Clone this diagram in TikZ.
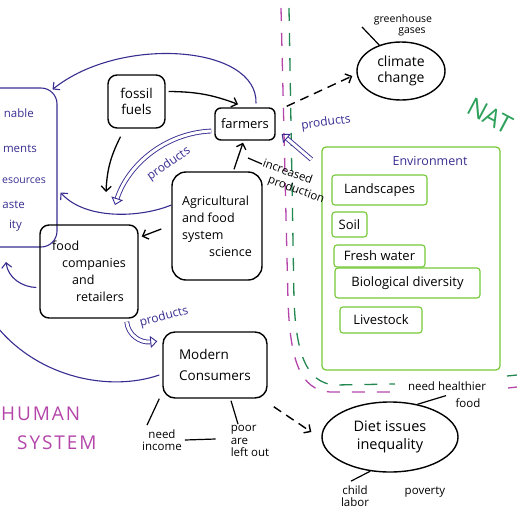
\documentclass[tikz,border=0pt]{standalone}
\usepackage{fontspec}
\setmainfont{Open Sans}
\usetikzlibrary{arrows.meta,shapes.geometric,calc}
\definecolor{inkblue}{RGB}{55,45,145}
\definecolor{magent}{RGB}{180,70,170}
\definecolor{leaf}{RGB}{115,200,55}
\definecolor{pine}{RGB}{35,135,80}
\definecolor{natgreen}{RGB}{45,160,90}
\begin{document}
\begin{tikzpicture}[x=1pt,y=-1pt,
  box/.style={draw=black,line width=1.4pt,rounded corners=9pt,align=center,inner sep=2pt,font=\fontsize{12.5}{15}\selectfont},
  gbox/.style={draw=leaf,line width=1.1pt,rounded corners=3pt,inner sep=1pt,font=\fontsize{13}{15}\selectfont},
  oval/.style={ellipse,draw=black,line width=1.4pt,align=center,inner sep=0pt,font=\fontsize{14.5}{18}\selectfont},
  arr/.style={black,line width=1.3pt,-{Straight Barb[length=5pt,width=10pt]}},
  dasharr/.style={black,line width=1.4pt,dash pattern=on 9pt off 6pt,-{Straight Barb[length=5pt,width=10pt]}},
  bluearr/.style={inkblue,line width=1.1pt,-{Straight Barb[length=5pt,width=10pt]}},
  blueline/.style={inkblue,line width=1.1pt},
  hollow/.style={inkblue,line width=0.9pt,double=white,double distance=3pt,-{Triangle[open,length=7pt,width=12pt]}},
  lbl/.style={font=\fontsize{11.5}{12.5}\selectfont,align=center,inner sep=1pt},
  bluelbl/.style={lbl,text=inkblue},
  tie/.style={black,line width=1.2pt},
  bound/.style={line width=1.3pt,dash pattern=on 13pt off 12pt}
]
\useasboundingbox (0,0) rectangle (517,517);
\clip (0,0) rectangle (517,517);

% boundary between human system and nature
\draw[bound,magent] (281,8) -- (288,300) .. controls (290,360) and (300,390) .. (330,392) -- (395,392);
\draw[bound,pine] (289,8) -- (294,300) .. controls (296,350) and (305,383) .. (335,385) -- (395,384);
\draw[bound,pine] (507,376) -- (517,375);
\draw[bound,magent] (508,388) -- (517,387);

% region labels
\node[text=magent,font=\fontsize{19}{22}\selectfont\addfontfeature{LetterSpace=10},anchor=west,inner sep=0pt] (human) at (1,414) {HUMAN};
\node[text=magent,font=\fontsize{19}{22}\selectfont\addfontfeature{LetterSpace=10},anchor=west,inner sep=0pt] (system) at (17,443) {SYSTEM};
\node[text=natgreen,font=\fontsize{25}{27}\selectfont,rotate=-28,inner sep=0pt] (nat) at (490,116) {NAT};

% left (cut) box
\node[draw=inkblue,line width=1.1pt,rounded corners=16pt,minimum width=80pt,minimum height=159pt] (left) at (17,167.5) {};
\node[bluelbl,anchor=east] (l1) at (35,113) {nable};
\node[bluelbl,anchor=east] (l2) at (38,149) {ments};
\node[bluelbl,anchor=east,font=\fontsize{10.5}{12}\selectfont] (l3) at (47,181) {esources};
\node[bluelbl,anchor=east] (l4) at (26,205) {aste};
\node[bluelbl,anchor=east] (l5) at (23,226) {ity};

% main boxes
\node[box,minimum width=57pt,minimum height=53pt,font=\fontsize{13.5}{16}\selectfont] (fossil) at (136.5,101.5) {fossil\\fuels};
\node[box,minimum width=60pt,minimum height=32pt,rounded corners=6pt,font=\fontsize{13}{15}\selectfont] (farmers) at (245,124) {farmers};
\node[box,minimum width=90pt,minimum height=108pt,rounded corners=14pt,align=left,font=\fontsize{12.5}{17}\selectfont] (agri) at (217,226) {Agricultural\\and food\\system\\\hspace*{27pt}science};
\node[box,minimum width=98pt,minimum height=93pt,align=left,font=\fontsize{12.5}{17}\selectfont] (food) at (89,271.5) {food\\\hspace*{10pt}companies\\\hspace*{20pt}and\\\hspace*{24pt}retailers};
\node[box,minimum width=104pt,minimum height=66pt,rounded corners=12pt,font=\fontsize{13.5}{21}\selectfont] (cons) at (215,365) {Modern\hspace*{22pt}\\Consumers};
\node[oval,minimum width=136pt,minimum height=70pt] (diet) at (390,437) {Diet issues\\inequality};
\node[oval,minimum width=88pt,minimum height=58pt,font=\fontsize{14}{16}\selectfont] (climate) at (401,71) {climate\\change};

% environment
\node[draw=leaf,line width=1.2pt,rounded corners=4pt,minimum width=178pt,minimum height=223pt] (env) at (411,258.5) {};
\node[bluelbl,font=\fontsize{12.5}{14}\selectfont] (envt) at (430,161) {Environment};
\node[gbox,minimum width=95pt,minimum height=30pt] (land) at (379.5,190) {Landscapes};
\node[gbox,minimum width=35pt,minimum height=25pt] (soil) at (349.5,224.5) {Soil};
\node[gbox,minimum width=91pt,minimum height=22pt] (fresh) at (379.5,256) {Fresh water};
\node[gbox,minimum width=145pt,minimum height=30pt] (bio) at (407.5,283) {Biological diversity};
\node[gbox,minimum width=82pt,minimum height=26pt] (live) at (381,320) {Livestock};

% labels
\node[lbl,font=\fontsize{10.5}{11.5}\selectfont] (ghg) at (403,20) {greenhouse};
\node[lbl,font=\fontsize{10.5}{11.5}\selectfont] (gases) at (412,32) {gases};
\coordinate (ghgtip) at (362,27);
\node[lbl,rotate=-20] (incr) at (288,171) {increased};
\node[lbl,rotate=-20] (prod) at (296,190) {production};
\coordinate (incA) at (248,158);
\coordinate (incB) at (262,164);
\node[bluelbl,rotate=35,font=\fontsize{12}{13}\selectfont] (p1) at (169,164) {products};
\node[bluelbl,rotate=8,font=\fontsize{12}{13}\selectfont] (p2) at (326,123) {products};
\node[bluelbl,rotate=15,font=\fontsize{12}{13}\selectfont] (p3) at (164,317) {products};
\node[lbl] (income) at (162,440) {need\\income};
\node[lbl,align=left] (poor) at (250,441) {poor\\are\\left out};
\node[lbl] (healthy) at (447,386) {need healthier};
\node[lbl] (hfood) at (468,403) {food};
\node[lbl] (child) at (355,496) {child\\labor};
\node[lbl] (pov) at (425,492) {poverty};

% connector end points
\coordinate (conv) at (106,192);
\coordinate (conv2) at (115,205);
\coordinate (leftpt) at (6,262);
\coordinate (edgeL) at (-2,328);

% connectors
\draw[arr] ($(fossil.east)+(3,-10)$) to[bend left=10] ($(farmers.north)+(-7,-3)$);
\draw[bluearr] ($(farmers.north)+(11,-4)$) .. controls (258,45) and (120,35) .. ($(left.north east)+(-5,2)$);
\draw[arr] ($(fossil.south)+(-16,8)$) to[bend right=12] (conv);
\draw[hollow] ($(farmers.west)+(-3,7)$) .. controls (165,133) and (128,165) .. (conv2);
\draw[bluearr] ($(agri.west)+(0,-21)$) .. controls (140,218) and (85,220) .. ($(left.east)+(3,25)$);
\draw[arr] ($(agri.west)+(-10,3)$) -- ($(food.east)+(3,-35)$);
\draw[bluearr] ($(food.west)+(-3,16)$) .. controls (22,287) and (8,278) .. (leftpt);
\draw[blueline] (edgeL) .. controls (40,378) and (110,392) .. ($(cons.west)+(-3,10)$);
\draw[hollow] ($(food.south east)+(-12,3)$) .. controls (128,335) and (140,343) .. ($(cons.north west)+(-5,10)$);
\draw[hollow] ($(env.north west)+(-10,13)$) -- ($(farmers.east)+(6,10)$);
\draw[dasharr] ($(farmers.north east)+(11,-1)$) -- ($(climate.west)+(-4,5)$);
\draw[arr] ($(agri.north)+(17,-2)$) -- ($(farmers.south)+(-2,2)$);
\draw[tie] (incA) -- (incB);
\draw[tie] (climate.130) -- (ghgtip);
\draw[tie] ($(cons.south west)+(-3,0)$) -- ($(income.north)+(-15,-3)$);
\draw[tie] ($(income.east)+(2,0)$) -- ($(poor.west)+(-14,-2)$);
\draw[tie] ($(cons.south)+(16,2)$) -- ($(poor.north)+(-12,0)$);
\draw[dasharr] ($(cons.south east)+(6,8)$) -- ($(diet.west)+(-10,-5)$);
\draw[tie] (diet.50) -- ($(healthy.south)+(-1,4)$);
\draw[tie] (diet.240) -- ($(child.north)+(-4,-3)$);
\end{tikzpicture}
\end{document}
